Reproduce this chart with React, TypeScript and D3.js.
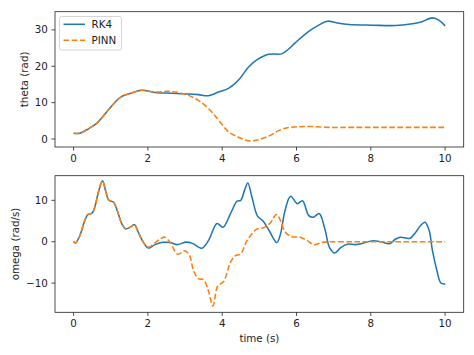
import React from "react";
import * as d3 from "d3";

// ---- data ----
const rk4ThetaT = [0, 0.17, 0.4, 0.62, 0.93, 1.25, 1.52, 1.83, 2.19, 2.64, 3.09, 3.36, 3.63, 3.9, 4.17, 4.44, 4.71, 4.94, 5.25, 5.6, 5.75, 5.97, 6.33, 6.6, 6.83, 7.05, 7.41, 8.04, 8.67, 9.3, 9.66, 9.84, 10];
const rk4Theta = [1.6, 1.6, 2.8, 4.3, 7.9, 11.4, 12.5, 13.4, 12.8, 12.6, 12.4, 12.2, 11.9, 12.9, 13.9, 16.2, 19.8, 21.8, 23.3, 23.4, 24.4, 26.5, 29.6, 31.3, 32.4, 32.0, 31.5, 31.3, 31.2, 32.0, 33.3, 32.6, 31.1];

const pinnThetaT = [0, 0.17, 0.4, 0.62, 0.93, 1.25, 1.52, 1.83, 2.19, 2.55, 2.85, 3.09, 3.36, 3.63, 3.9, 4.17, 4.44, 4.71, 4.94, 5.25, 5.52, 5.75, 6.0, 6.33, 6.87, 7.5, 8.5, 9.5, 10];
const pinnTheta = [1.6, 1.6, 2.8, 4.3, 7.9, 11.4, 12.5, 13.4, 12.9, 13.1, 12.7, 12.0, 10.6, 8.4, 5.2, 2.0, 0.5, -0.5, -0.3, 0.8, 2.3, 3.1, 3.35, 3.45, 3.2, 3.2, 3.2, 3.2, 3.2];

const rk4OmegaT = [0, 0.05, 0.17, 0.3, 0.39, 0.5, 0.57, 0.68, 0.78, 0.86, 0.95, 1.07, 1.16, 1.3, 1.4, 1.52, 1.64, 1.74, 1.88, 2.01, 2.19, 2.4, 2.6, 2.78, 3.03, 3.2, 3.45, 3.63, 3.86, 4.02, 4.22, 4.4, 4.5, 4.6, 4.69, 4.8, 4.95, 5.1, 5.27, 5.47, 5.57, 5.69, 5.84, 6.02, 6.16, 6.33, 6.45, 6.61, 6.76, 6.89, 7.03, 7.19, 7.37, 7.59, 7.81, 8.02, 8.27, 8.5, 8.67, 8.8, 9.05, 9.21, 9.34, 9.46, 9.57, 9.66, 9.78, 9.88, 9.97, 10];
const rk4Omega = [0.1, -0.3, 1.5, 5.1, 6.6, 6.9, 8.3, 12.4, 14.7, 12.4, 10.0, 9.6, 7.9, 4.3, 3.1, 3.5, 4.1, 2.3, -0.15, -1.5, -0.7, -0.15, -0.2, -0.7, -0.1, -0.4, -1.6, 0.25, 4.4, 3.5, 6.7, 9.8, 10.0, 12.4, 14.2, 10.8, 6.2, 5.0, 2.6, -0.2, 1.9, 7.5, 11.0, 9.2, 9.9, 6.3, 5.9, 6.8, 3.2, -1.4, -2.7, -1.4, -0.6, -0.7, -0.3, 0.2, 0.0, -0.5, 0.65, 1.1, 0.8, 2.3, 3.9, 4.7, 2.7, -2.2, -7.0, -9.9, -10.2, -10.1];

const pinnOmegaT = [0, 0.05, 0.17, 0.3, 0.39, 0.5, 0.57, 0.68, 0.78, 0.86, 0.95, 1.07, 1.16, 1.3, 1.4, 1.52, 1.64, 1.74, 1.88, 2.01, 2.19, 2.33, 2.46, 2.6, 2.8, 3.0, 3.12, 3.23, 3.36, 3.5, 3.63, 3.75, 3.88, 4.04, 4.22, 4.35, 4.49, 4.67, 4.92, 5.12, 5.3, 5.46, 5.57, 5.7, 5.88, 6.1, 6.29, 6.47, 6.69, 6.96, 7.5, 8, 8.5, 9, 9.5, 10];
const pinnOmega = [0.1, -0.3, 1.5, 5.1, 6.6, 6.9, 8.3, 12.4, 14.7, 12.4, 10.0, 9.6, 7.9, 4.3, 3.1, 3.5, 4.1, 2.3, -0.15, -1.3, -0.3, 0.65, 1.1, -0.2, -3.0, -2.2, -3.3, -7.0, -8.9, -9.2, -11.9, -15.5, -10.7, -9.6, -5.0, -3.4, -3.0, 0.25, 3.0, 3.4, 4.6, 6.6, 5.1, 2.3, 1.2, 1.1, 0.25, -0.7, -0.15, 0.0, 0.0, 0.0, 0.0, 0.0, 0.0, 0.0];

const xTicks = [0, 2, 4, 6, 8, 10];
const thetaTicks = [0, 10, 20, 30];
const omegaTicks = [-10, 0, 10];
const seriesNames = ["RK4", "PINN"];

// ---- layout ----
const W = 474, H = 355;
const left = 55, right = 463.7;
const top1 = 11.7, bot1 = 147;
const top2 = 175.7, bot2 = 312.3;
const BLUE = "#1f77b4", ORANGE = "#ff7f0e";
const FS = 10.3;
const FONT = "DejaVu Sans, sans-serif";
const LW = 1.54;
const DASH = "5.7,2.47";

const x = d3.scaleLinear().domain([-0.5, 10.5]).range([left, right]);
const y1 = d3.scaleLinear().domain([-2.2, 35.0]).range([bot1, top1]);
const y2 = d3.scaleLinear().domain([-17.05, 15.95]).range([bot2, top2]);

function pathFor(ts: number[], vs: number[], y: d3.ScaleLinear<number, number>) {
  const pts: [number, number][] = ts.map((t, i) => [t, vs[i]]);
  return d3
    .line<[number, number]>()
    .x((d) => x(d[0]))
    .y((d) => y(d[1]))
    .curve(d3.curveCatmullRom.alpha(0.5))(pts) as string;
}

function Axes({ y, top, bot, yTicks, label, labelX }: any) {
  return (
    <g>
      <rect x={left} y={top} width={right - left} height={bot - top} fill="none" stroke="#222" strokeWidth={0.8} />
      {xTicks.map((t) => (
        <g key={"x" + t}>
          <line x1={x(t)} x2={x(t)} y1={bot} y2={bot + 3.6} stroke="#222" strokeWidth={0.8} />
          <text x={x(t)} y={bot + 15} textAnchor="middle" fontSize={FS} fontFamily={FONT} fill="#222">
            {t}
          </text>
        </g>
      ))}
      {yTicks.map((t: number) => (
        <g key={"y" + t}>
          <line x1={left - 3.6} x2={left} y1={y(t)} y2={y(t)} stroke="#222" strokeWidth={0.8} />
          <text x={left - 7.2} y={y(t)} dy="0.35em" textAnchor="end" fontSize={FS} fontFamily={FONT} fill="#222">
            {t < 0 ? "\u2212" + Math.abs(t) : t}
          </text>
        </g>
      ))}
      <text
        transform={`translate(${labelX},${(top + bot) / 2}) rotate(-90)`}
        textAnchor="middle"
        dy="0.35em"
        fontSize={FS}
        fontFamily={FONT}
        fill="#222"
      >
        {label}
      </text>
    </g>
  );
}

export default function App() {
  return (
    <svg width={W} height={H} style={{ position: "absolute", left: 0, top: 0, background: "#fff" }}>
      <rect x={0} y={0} width={W} height={H} fill="#fff" />
      <defs>
        <clipPath id="c1">
          <rect x={left} y={top1} width={right - left} height={bot1 - top1} />
        </clipPath>
        <clipPath id="c2">
          <rect x={left} y={top2} width={right - left} height={bot2 - top2} />
        </clipPath>
      </defs>
      <g clipPath="url(#c1)">
        <path d={pathFor(rk4ThetaT, rk4Theta, y1)} fill="none" stroke={BLUE} strokeWidth={LW} />
        <path d={pathFor(pinnThetaT, pinnTheta, y1)} fill="none" stroke={ORANGE} strokeWidth={LW} strokeDasharray={DASH} />
      </g>
      <g clipPath="url(#c2)">
        <path d={pathFor(rk4OmegaT, rk4Omega, y2)} fill="none" stroke={BLUE} strokeWidth={LW} />
        <path d={pathFor(pinnOmegaT, pinnOmega, y2)} fill="none" stroke={ORANGE} strokeWidth={LW} strokeDasharray={DASH} />
      </g>
      <Axes y={y1} top={top1} bot={bot1} yTicks={thetaTicks} label="theta (rad)" labelX={24} />
      <Axes y={y2} top={top2} bot={bot2} yTicks={omegaTicks} label="omega (rad/s)" labelX={15.5} />
      <text x={(left + right) / 2} y={338.5} dy="0.35em" textAnchor="middle" fontSize={FS} fontFamily={FONT} fill="#222">
        time (s)
      </text>
      {/* legend */}
      <g>
        <rect x={59.5} y={16.5} width={62} height={33.5} rx={2} fill="#fff" fillOpacity={0.8} stroke="#ccc" strokeWidth={0.8} />
        {seriesNames.map((n, i) => (
          <g key={n}>
            <line
              x1={63.5}
              x2={85}
              y1={24.3 + i * 16}
              y2={24.3 + i * 16}
              stroke={i === 0 ? BLUE : ORANGE}
              strokeWidth={LW}
              strokeDasharray={i === 0 ? undefined : DASH}
            />
            <text x={91.5} y={24.3 + i * 16} dy="0.35em" fontSize={FS} fontFamily={FONT} fill="#222">
              {n}
            </text>
          </g>
        ))}
      </g>
    </svg>
  );
}
